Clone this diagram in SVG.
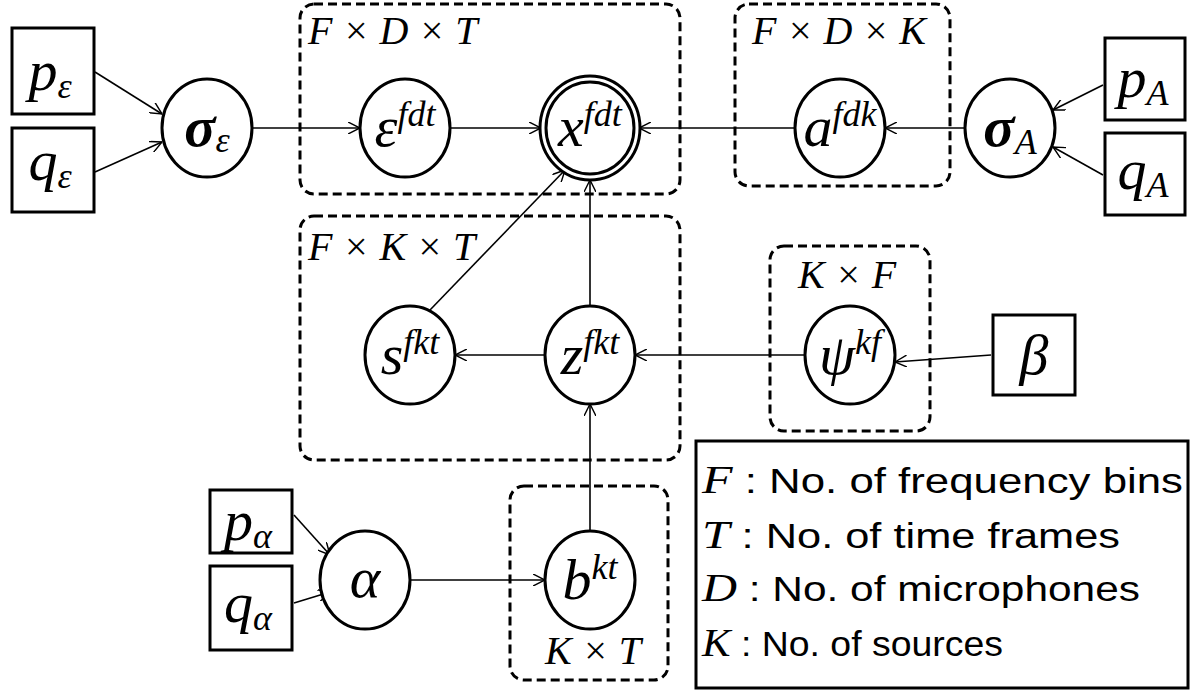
<svg xmlns="http://www.w3.org/2000/svg" width="1200" height="695" viewBox="0 0 1200 695">
<defs>
<marker id="ah" viewBox="0 0 10 10" refX="10" refY="5" markerWidth="12" markerHeight="12" markerUnits="userSpaceOnUse" orient="auto"><path d="M0,0 L10,5 L0,10" fill="none" stroke="#000" stroke-width="1.2"/></marker>
<style>
.n{fill:#fff;stroke:#000;stroke-width:3}
.b{fill:#fff;stroke:#000;stroke-width:3}
.pl{fill:none;stroke:#000;stroke-width:3;stroke-dasharray:9,5}
.c{stroke:#000;stroke-width:1.6;fill:none;marker-end:url(#ah)}
.m{font-family:"Liberation Serif",serif;font-style:italic;font-size:58px;text-anchor:middle}
.s{font-size:36px}
.pt{font-family:"Liberation Serif",serif;font-style:italic;font-size:40px}
.lg{font-family:"Liberation Sans",sans-serif;font-size:35px}
</style>
</defs>
<rect width="1200" height="695" fill="#fff"/>
<g id="plates">
<rect class="pl" x="300" y="4" width="380" height="190" rx="14"/>
<rect class="pl" x="735" y="4" width="215" height="182" rx="14"/>
<rect class="pl" x="300" y="216" width="380" height="244" rx="14"/>
<rect class="pl" x="770" y="246" width="160" height="185" rx="14"/>
<rect class="pl" x="510" y="486" width="158" height="194" rx="14"/>
<text class="pt" x="308" y="44">F × D × T</text>
<text class="pt" x="752" y="44">F × D × K</text>
<text class="pt" x="308" y="260">F × K × T</text>
<text class="pt" x="798" y="288">K × F</text>
<text class="pt" x="545" y="664">K × T</text>
</g>
<g id="connectors">
<line class="c" x1="95" y1="72" x2="162" y2="114"/>
<line class="c" x1="95" y1="172" x2="162" y2="142"/>
<line class="c" x1="252" y1="128" x2="360" y2="128"/>
<line class="c" x1="450" y1="128" x2="541" y2="128"/>
<line class="c" x1="795" y1="128" x2="639" y2="128"/>
<line class="c" x1="965" y1="128" x2="885" y2="128"/>
<line class="c" x1="1103" y1="85" x2="1053" y2="110"/>
<line class="c" x1="1103" y1="175" x2="1053" y2="147"/>
<line class="c" x1="430" y1="310" x2="565" y2="170"/>
<line class="c" x1="590" y1="306" x2="590" y2="180"/>
<line class="c" x1="545" y1="355" x2="455" y2="355"/>
<line class="c" x1="805" y1="355" x2="635" y2="355"/>
<line class="c" x1="991" y1="355" x2="895" y2="362"/>
<line class="c" x1="590" y1="531" x2="590" y2="404"/>
<line class="c" x1="410" y1="580" x2="545" y2="580"/>
<line class="c" x1="294" y1="515" x2="330" y2="555"/>
<line class="c" x1="294" y1="603" x2="330" y2="592"/>
</g>
<g id="p_eps"><rect class="b" x="12" y="28" width="82" height="86"/><text class="m" x="50" y="90">p<tspan class="s" dy="8">ε</tspan></text></g>
<g id="q_eps"><rect class="b" x="12" y="128" width="82" height="84"/><text class="m" x="50" y="180">q<tspan class="s" dy="8">ε</tspan></text></g>
<g id="sigma_eps"><ellipse class="n" cx="207" cy="128" rx="45" ry="49"/><text class="m" x="207" y="146" font-weight="bold">σ<tspan class="s" dy="6" font-weight="normal">ε</tspan></text></g>
<g id="eps"><ellipse class="n" cx="405" cy="128" rx="45" ry="49"/><text class="m" x="405" y="146">ε<tspan class="s" dy="-20">fdt</tspan></text></g>
<g id="x"><ellipse class="n" cx="590" cy="128" rx="50" ry="52"/><ellipse class="n" cx="590" cy="128" rx="44" ry="46"/><text class="m" x="590" y="146">x<tspan class="s" dy="-20">fdt</tspan></text></g>
<g id="a"><ellipse class="n" cx="840" cy="128" rx="45" ry="49"/><text class="m" x="840" y="146">a<tspan class="s" dy="-20">fdk</tspan></text></g>
<g id="sigma_A"><ellipse class="n" cx="1010" cy="128" rx="45" ry="49"/><text class="m" x="1010" y="146" font-weight="bold">σ<tspan class="s" dy="8" font-weight="normal">A</tspan></text></g>
<g id="p_A"><rect class="b" x="1105" y="38" width="80" height="82"/><text class="m" x="1143" y="97">p<tspan class="s" dy="8">A</tspan></text></g>
<g id="q_A"><rect class="b" x="1105" y="133" width="80" height="82"/><text class="m" x="1143" y="189">q<tspan class="s" dy="8">A</tspan></text></g>
<g id="s"><ellipse class="n" cx="410" cy="355" rx="45" ry="49"/><text class="m" x="410" y="374">s<tspan class="s" dy="-20">fkt</tspan></text></g>
<g id="z"><ellipse class="n" cx="590" cy="355" rx="45" ry="49"/><text class="m" x="590" y="374">z<tspan class="s" dy="-20">fkt</tspan></text></g>
<g id="psi"><ellipse class="n" cx="850" cy="355" rx="45" ry="49"/><text class="m" x="850" y="374">ψ<tspan class="s" dy="-20">kf</tspan></text></g>
<g id="beta"><rect class="b" x="993" y="315" width="82" height="80"/><text class="m" x="1034" y="374">β</text></g>
<g id="b"><ellipse class="n" cx="590" cy="580" rx="45" ry="49"/><text class="m" x="590" y="599">b<tspan class="s" dy="-20">kt</tspan></text></g>
<g id="alpha"><ellipse class="n" cx="365" cy="580" rx="45" ry="49"/><text class="m" x="365" y="597">α</text></g>
<g id="p_alpha"><rect class="b" x="210" y="490" width="82" height="63"/><text class="m" x="248" y="540">p<tspan class="s" dy="8">α</tspan></text></g>
<g id="q_alpha"><rect class="b" x="210" y="566" width="82" height="84"/><text class="m" x="248" y="622">q<tspan class="s" dy="8">α</tspan></text></g>
<g id="legend"><rect class="b" x="696" y="441" width="492" height="247"/>
<text class="lg" x="702" y="493" textLength="481" lengthAdjust="spacingAndGlyphs"><tspan class="pt">F</tspan> : No. of frequency bins</text>
<text class="lg" x="702" y="548" textLength="418" lengthAdjust="spacingAndGlyphs"><tspan class="pt">T</tspan> : No. of time frames</text>
<text class="lg" x="702" y="601" textLength="438" lengthAdjust="spacingAndGlyphs"><tspan class="pt">D</tspan> : No. of microphones</text>
<text class="lg" x="702" y="656" textLength="301" lengthAdjust="spacingAndGlyphs"><tspan class="pt">K</tspan> : No. of sources</text>
</g>
</svg>
